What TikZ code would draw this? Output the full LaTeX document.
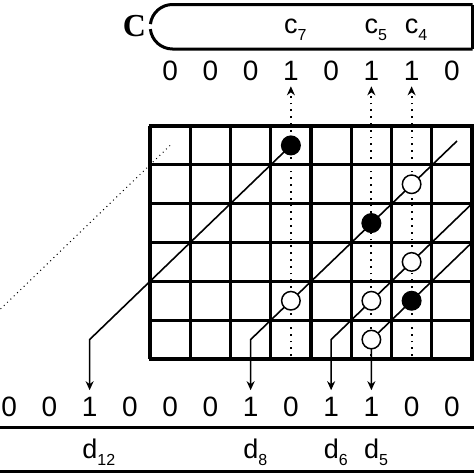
\documentclass[tikz,border=0pt]{standalone}
\usepackage{fontspec}
\setmainfont{Liberation Sans}
\newfontfamily\tagfont{Liberation Serif}
\usetikzlibrary{arrows.meta}
% cell centres of the 8x6 grid
\newcommand{\cx}[1]{(150+40.25*(#1-0.5))}
\newcommand{\cy}[1]{(126+38.83*(#1-0.5))}
\newcommand{\lbl}[2]{#1\raisebox{-0.5ex}{\fontsize{16}{16}\selectfont #2}}

\begin{document}
\begin{tikzpicture}[x=1pt, y=-1pt, semithick,
         >={Stealth[length=9pt,width=8pt]}]
  \tikzstyle{bit}=[font=\fontsize{28}{28}\selectfont, inner sep=0pt,
                   text height=20pt, text depth=0pt, anchor=base]
  \tikzstyle{tag}=[font=\fontsize{27}{27}\selectfont, inner sep=0pt, anchor=base west]
  \tikzstyle{gridline}=[line width=3.1pt]
  \tikzstyle{frame}=[line width=3pt]
  \tikzstyle{chain}=[line width=1.6pt]
  \tikzstyle{probe}=[line width=1.8pt, dash pattern=on 1.8pt off 5pt]
  \tikzstyle{one}=[circle, draw, line width=1.5pt, fill=black, minimum size=18.5pt, inner sep=0pt]
  \tikzstyle{zero}=[circle, draw, line width=1.5pt, fill=white, minimum size=18.5pt, inner sep=0pt]
\useasboundingbox (0,0) rectangle (474,474);

% code word C
\draw[frame] (472.6,4.5) -- (172.5,4.5) arc[start angle=270, end angle=187, radius=22.25];
\draw[frame] (472.6,49) -- (172.5,49) arc[start angle=90, end angle=174, radius=22.25];
\draw[frame] (472.6,4.5) -- (472.6,49);
\node[anchor=base, inner sep=0pt, font=\tagfont\bfseries\fontsize{32}{32}\selectfont]
  (cw) at (134.5,36.7) {C};
\node[tag] (c7) at ({\cx{4}-7},33) {\lbl{c}{7}};
\node[tag] (c5) at ({\cx{6}-7},33) {\lbl{c}{5}};
\node[tag] (c4) at ({\cx{7}-7},33) {\lbl{c}{4}};
\foreach \v [count=\i] in {0,0,0,1,0,1,1,0}
  \node[bit] (t\i) at ({\cx{\i}},80) {\v};

% grid
\foreach \i in {0,...,8}
  \draw[gridline] ({150+40.25*\i},126) -- ({150+40.25*\i},359);
\foreach \j in {0,...,6}
  \draw[gridline] (148.5,{126+38.83*\j}) -- (473.5,{126+38.83*\j});

% probes up to C
\foreach \k in {4,6,7} {
  \coordinate (p\k) at ({\cx{\k}},356);
  \draw[probe, ->, shorten >=6pt] (p\k) -- (t\k.south);
}

% received word D
\draw[frame] (0,427) -- (474,427);
\draw[frame] (0,471.5) -- (474,471.5);
\foreach \v [count=\i] in {0,0,1,0,0,0,1,0,1,1,0,0}
  \node[bit] (b\i) at ({\cx{\i-4}},416.5) {\v};
\node[tag] (d12) at ({\cx{-1}-7.5},458) {\lbl{d}{12}};
\node[tag] (d8) at ({\cx{3}-7.5},458) {\lbl{d}{8}};
\node[tag] (d6) at ({\cx{5}-7.5},458) {\lbl{d}{6}};
\node[tag] (d5) at ({\cx{6}-7.5},458) {\lbl{d}{5}};

% diagonals
\coordinate (g11) at ({\cx{1}},{\cy{1}});
\coordinate (g0) at (-3,312.4);
\draw[line width=1pt, dash pattern=on 1pt off 3.6pt] (g11) -- (g0);

\coordinate (s1) at ({\cx{4}},{\cy{1}});
\coordinate (k1) at ({\cx{-1}},{\cy{6}});
\coordinate (s2) at (457,141);
\coordinate (k2) at ({\cx{3}},{\cy{6}});
\coordinate (s3) at (472,{126+38.83*2});
\coordinate (k3) at ({\cx{5}},{\cy{6}});
\coordinate (s4) at (472,{126+38.83*3});
\coordinate (k4) at ({\cx{6}},{\cy{6}});
\draw[chain, ->, shorten >=6pt] (s1) -- (k1) -- (b3.north);
\draw[chain, ->, shorten >=6pt] (s2) -- (k2) -- (b7.north);
\draw[chain, ->, shorten >=6pt] (s3) -- (k3) -- (b9.north);
\draw[chain, ->, shorten >=6pt] (s4) -- (k4) -- (b10.north);

% matches
\node[one] (m41) at ({\cx{4}},{\cy{1}}) {};
\node[zero] (m72) at ({\cx{7}},{\cy{2}}) {};
\node[one] (m63) at ({\cx{6}},{\cy{3}}) {};
\node[zero] (m74) at ({\cx{7}},{\cy{4}}) {};
\node[zero] (m45) at ({\cx{4}},{\cy{5}}) {};
\node[zero] (m65) at ({\cx{6}},{\cy{5}}) {};
\node[one] (m75) at ({\cx{7}},{\cy{5}}) {};
\node[zero] (m66) at ({\cx{6}},{\cy{6}}) {};
\end{tikzpicture}
\end{document}
